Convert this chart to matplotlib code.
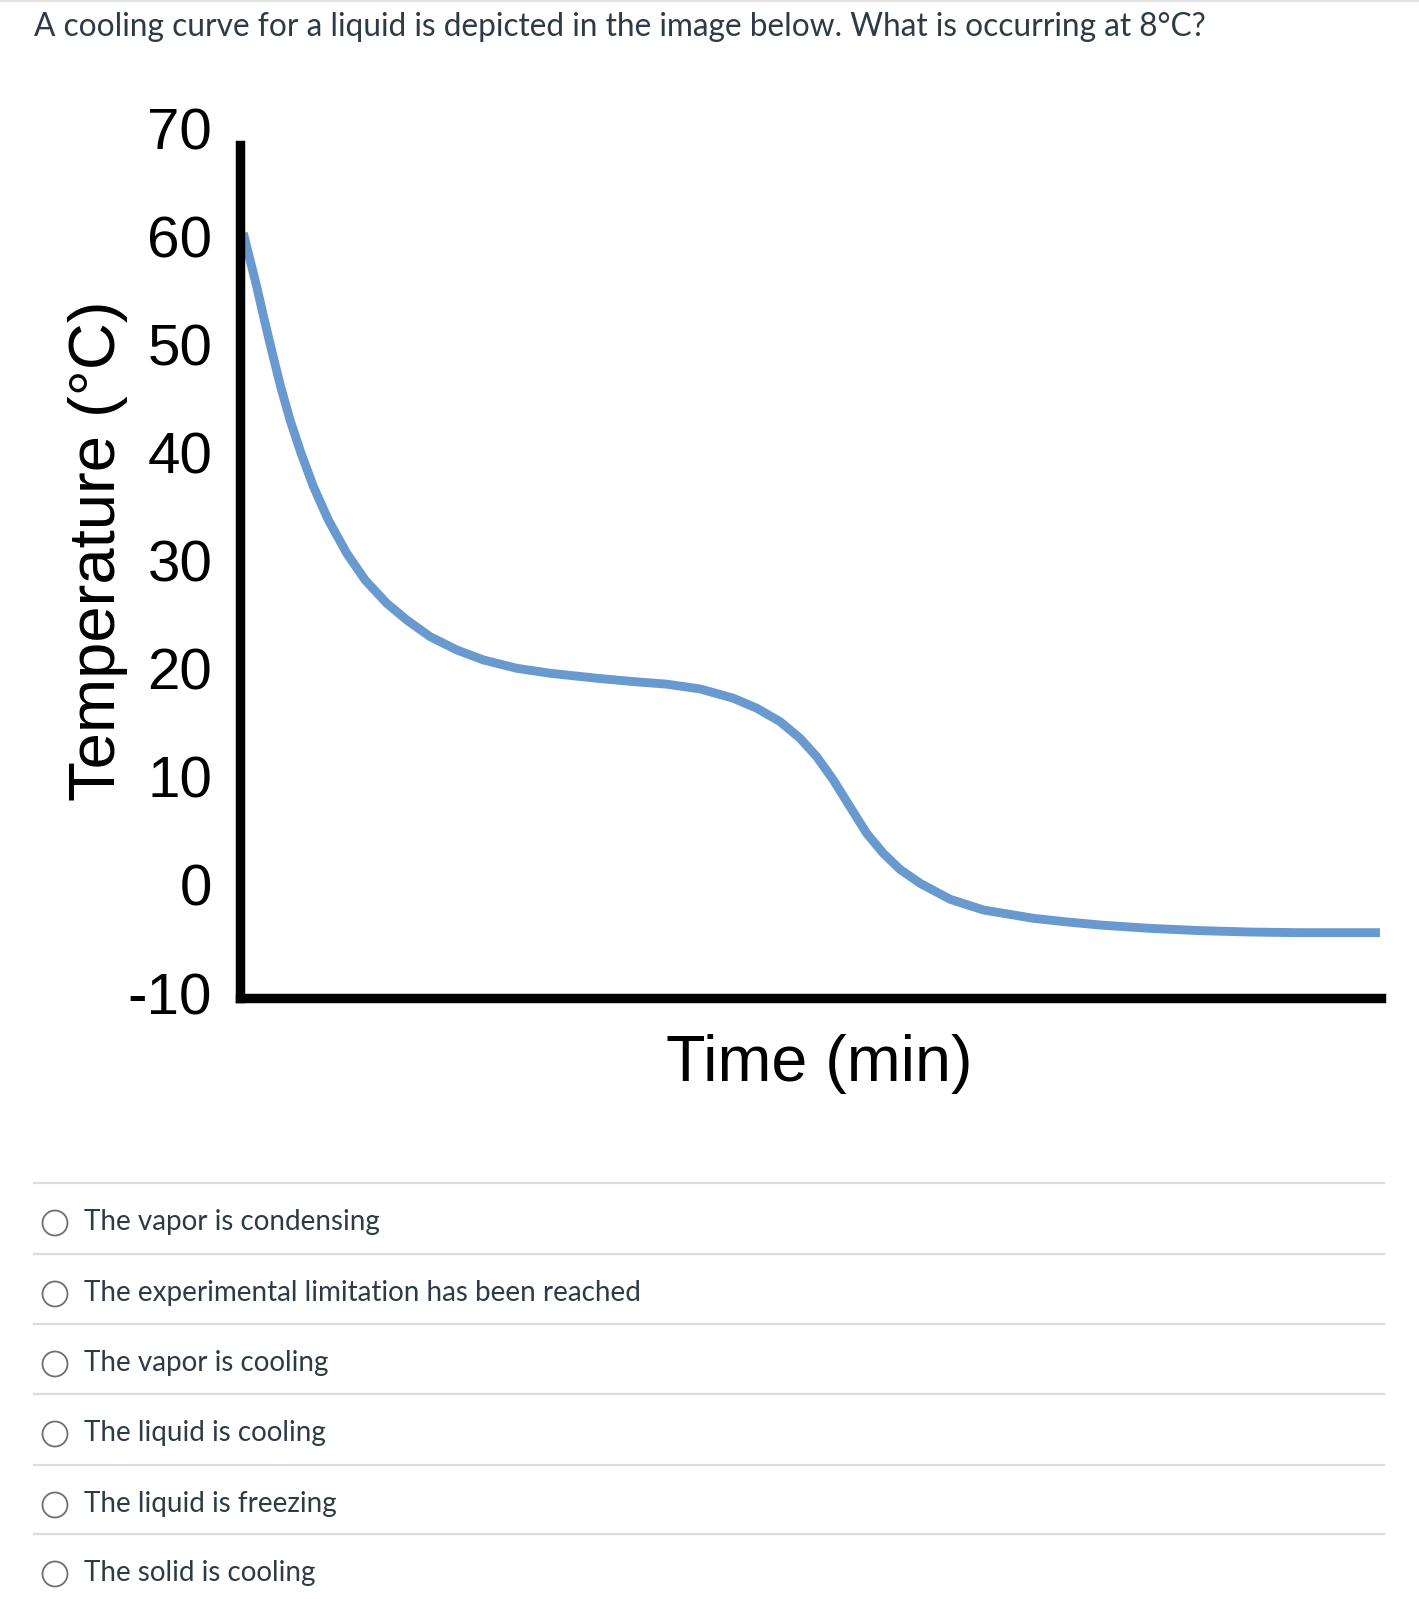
import matplotlib.pyplot as plt
from matplotlib.patches import Circle

W, H = 1419, 1599

# values (time has no scale in the original, 0-100 used)
time_min = [0.29, 0.73, 1.46, 2.13, 2.83, 3.56, 4.38, 5.35, 6.43, 7.74, 9.35,
            10.96, 12.85, 14.61, 16.65, 18.99, 21.33, 24.25, 27.17, 31.26,
            34.47, 37.40, 40.32, 43.24, 45.28, 47.33, 49.08, 50.54, 52.00,
            53.46, 54.92, 56.38, 57.84, 59.60, 62.23, 65.15, 69.53, 72.50,
            75.37, 79.75, 84.14, 88.52, 92.90, 99.91]
temp_c = [60.29, 58.43, 55.35, 52.27, 49.19, 46.10, 43.02, 39.93, 36.85, 33.76,
          30.68, 28.21, 26.06, 24.51, 22.97, 21.74, 20.81, 20.04, 19.58, 19.12,
          18.81, 18.57, 18.13, 17.27, 16.35, 15.11, 13.57, 11.87, 9.71,
          7.24, 4.78, 2.93, 1.45, 0.16, -1.32, -2.31, -3.08, -3.42,
          -3.70, -4.01, -4.22, -4.35, -4.41, -4.41]
y_ticks = [-10, 0, 10, 20, 30, 40, 50, 60, 70]

question = "A cooling curve for a liquid is depicted in the image below. What is occurring at 8°C?"
options = [
    "The vapor is condensing",
    "The experimental limitation has been reached",
    "The vapor is cooling",
    "The liquid is cooling",
    "The liquid is freezing",
    "The solid is cooling",
]

TEXT = "#2d3b45"
BLUE = "#6899cf"

fig = plt.figure(figsize=(W / 100, H / 100), dpi=100)

# page layer in pixel coordinates
page = fig.add_axes([0, 0, 1, 1])
page.set_xlim(0, W)
page.set_ylim(H, 0)
page.axis("off")

page.plot([0, W], [1, 1], color="#e4e4e4", lw=1.5)
page.text(34, 27, question, fontsize=22.8, family="Lato", color=TEXT,
          va="center", ha="left")

sep_y = [1183, 1254, 1324, 1394, 1465, 1534]
for i, label in enumerate(options):
    y = sep_y[i]
    page.plot([34, 1384], [y, y], color="#dcdcdc", lw=1.6)
    cy = y + 40
    page.add_patch(Circle((55, cy), 12.5, fill=False, ec="#6f6f6f", lw=1.3))
    page.text(84, cy - 1, label, fontsize=20, family="Lato", color=TEXT,
              va="center", ha="left")

# chart
ax = fig.add_axes([240 / W, 1 - 998 / H, 1141 / W, 870 / H])
ax.patch.set_alpha(0)
ax.plot(time_min, temp_c, color=BLUE, lw=6.4, solid_capstyle="butt",
        solid_joinstyle="round")
ax.set_xlim(0, 100)
ax.set_ylim(-10.45, 70)
ax.set_yticks(y_ticks)
ax.set_yticklabels([str(v) for v in y_ticks], family="Liberation Sans", fontsize=42)
ax.set_xticks([])
ax.tick_params(axis="y", length=0, pad=20)
for side in ["top", "right"]:
    ax.spines[side].set_visible(False)
for side in ["left", "bottom"]:
    ax.spines[side].set_linewidth(6.8)
    ax.spines[side].set_color("black")
    ax.spines[side].set_capstyle("projecting")
ax.spines["left"].set_bounds(-10.45, 68.4)

fig.text(98 / W, 1 - 551 / H, "Temperature (°C)", rotation=90, fontsize=47,
         family="Liberation Sans", ha="center", va="center")
fig.text(819 / W, 1 - 1064 / H, "Time (min)", fontsize=46.5,
         family="Liberation Sans", ha="center", va="center")

fig.savefig("out.png", dpi=100, facecolor="white")
